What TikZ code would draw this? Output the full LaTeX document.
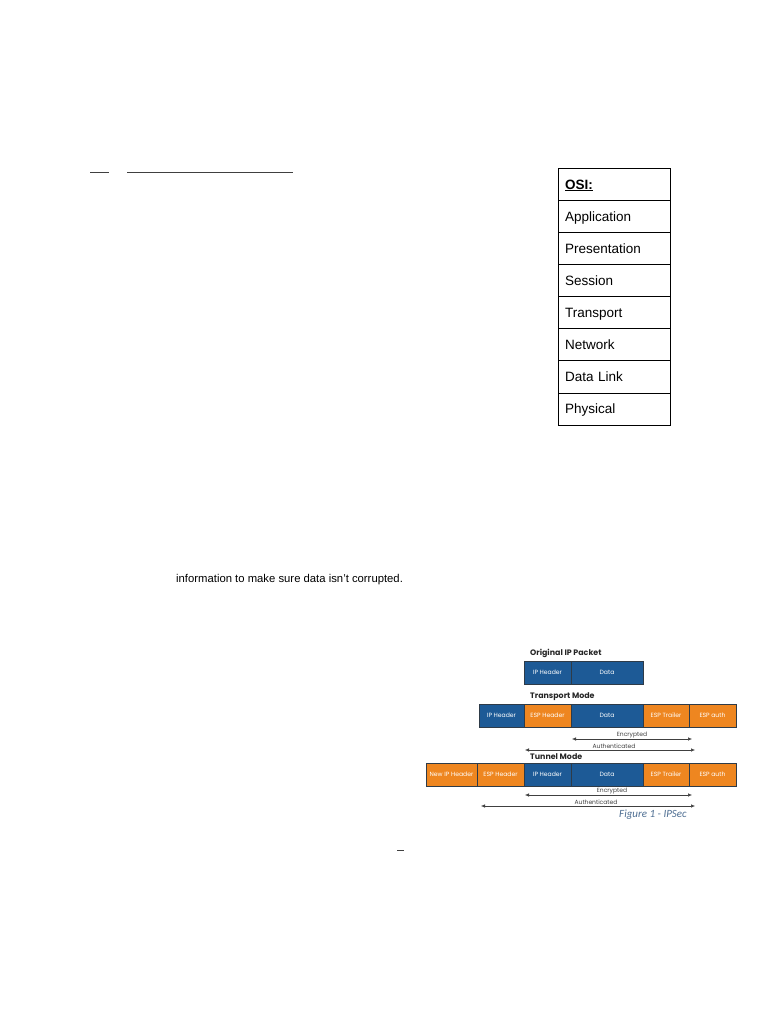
\documentclass[tikz,border=0pt]{standalone}
\usepackage{fontspec}
\setmainfont{Liberation Sans}
\newfontfamily\pop{Poppins}
\newfontfamily\carl{Carlito}
\usetikzlibrary{arrows.meta}
\definecolor{ipblue}{HTML}{1D5A96}
\definecolor{iporange}{HTML}{EE8620}
\definecolor{capcol}{HTML}{4F6F93}
\definecolor{boxline}{HTML}{2E3B48}
\begin{document}
\begin{tikzpicture}[x=1pt,y=-1pt,
  osirow/.style={draw=black, line width=0.7pt, anchor=north west, minimum width=112pt, minimum height=32.125pt,
    inner sep=0pt, outer sep=0pt, text width=108pt, text height=11pt, text depth=1pt, align=left, font=\fontsize{13.5}{16}\selectfont},
  pkt/.style={draw=boxline, line width=0.5pt, anchor=north west, minimum height=23pt, inner sep=0pt, outer sep=0pt,
    text=white, font=\pop\fontsize{6.1}{7}\selectfont},
  bluebox/.style={pkt, fill=ipblue},
  orangebox/.style={pkt, fill=iporange},
  ptitle/.style={anchor=west, inner sep=0pt, font=\pop\bfseries\fontsize{7.9}{9}\selectfont, text=black!85},
  dim/.style={draw=black!75, line width=0.5pt, {Latex[length=4pt,width=3.4pt]}-{Latex[length=4pt,width=3.4pt]}},
  dimlabel/.style={inner sep=0pt, anchor=south, font=\pop\fontsize{6}{7}\selectfont, text=black!75},
  uline/.style={draw=black!75, line width=0.8pt}
]
\path[use as bounding box, fill=white] (0,0) rectangle (768,1024);

% underlines at top
\coordinate (u1a) at (90,172); \coordinate (u1b) at (109,172);
\coordinate (u2a) at (127,172); \coordinate (u2b) at (293,172);
\draw[uline] (u1a) -- (u1b);
\draw[uline] (u2a) -- (u2b);
\coordinate (u3a) at (397,850); \coordinate (u3b) at (404,850);
\draw[uline] (u3a) -- (u3b);

% OSI table
\node[osirow] (osi0) at (558,168) {\hspace*{5pt}\underline{\textbf{OSI:}}};
\node[osirow] (osi1) at (558,200.125) {\hspace*{5pt}Application};
\node[osirow] (osi2) at (558,232.25) {\hspace*{5pt}Presentation};
\node[osirow] (osi3) at (558,264.375) {\hspace*{5pt}Session};
\node[osirow] (osi4) at (558,296.5) {\hspace*{5pt}Transport};
\node[osirow] (osi5) at (558,328.625) {\hspace*{5pt}Network};
\node[osirow] (osi6) at (558,360.75) {\hspace*{5pt}Data Link};
\node[osirow] (osi7) at (558,392.875) {\hspace*{5pt}Physical};

% body text
\node[anchor=west, inner sep=0pt, font=\fontsize{11.3}{13}\selectfont] (bodytext) at (176,580) {information to make sure data isn't corrupted.};

% Original IP packet
\node[ptitle] (torig) at (530,653) {Original IP Packet};
\node[bluebox, minimum width=47pt] (oip) at (524,661) {IP Header};
\node[bluebox, minimum width=72pt] (odata) at (571,661) {Data};

% Transport mode
\node[ptitle] (ttrans) at (530,697) {Transport Mode};
\node[bluebox, minimum width=45pt] (tip) at (479,704) {IP Header};
\node[orangebox, minimum width=47pt] (tesph) at (524,704) {ESP Header};
\node[bluebox, minimum width=72pt] (tdata) at (571,704) {Data};
\node[orangebox, minimum width=46pt] (testr) at (643,704) {ESP Trailer};
\node[orangebox, minimum width=47pt] (tesa) at (689,704) {ESP auth};

\coordinate (te1) at (572,739); \coordinate (te2) at (692,739);
\draw[dim] (te1) -- (te2);
\node[dimlabel] (tel) at (632,738) {Encrypted};
\coordinate (ta1) at (525,750); \coordinate (ta2) at (695,750);
\draw[dim] (ta1) -- (ta2);
\node[dimlabel] (tal) at (614,749) {Authenticated};

% Tunnel mode
\node[ptitle] (ttun) at (530,757) {Tunnel Mode};
\node[orangebox, minimum width=51pt] (nip) at (426,763) {New IP Header};
\node[orangebox, minimum width=47pt] (nesph) at (477,763) {ESP Header};
\node[bluebox, minimum width=47pt] (nipo) at (524,763) {IP Header};
\node[bluebox, minimum width=72pt] (ndata) at (571,763) {Data};
\node[orangebox, minimum width=46pt] (nestr) at (643,763) {ESP Trailer};
\node[orangebox, minimum width=47pt] (nesa) at (689,763) {ESP auth};

\coordinate (ne1) at (525,795); \coordinate (ne2) at (692,795);
\draw[dim] (ne1) -- (ne2);
\node[dimlabel] (nel) at (612,794) {Encrypted};
\coordinate (na1) at (481,806); \coordinate (na2) at (695,806);
\draw[dim] (na1) -- (na2);
\node[dimlabel] (nal) at (596,805) {Authenticated};

\node[inner sep=0pt, font=\carl\itshape\fontsize{11}{13}\selectfont, text=capcol] (cap) at (653,815) {Figure 1 - IPSec};
\end{tikzpicture}
\end{document}
